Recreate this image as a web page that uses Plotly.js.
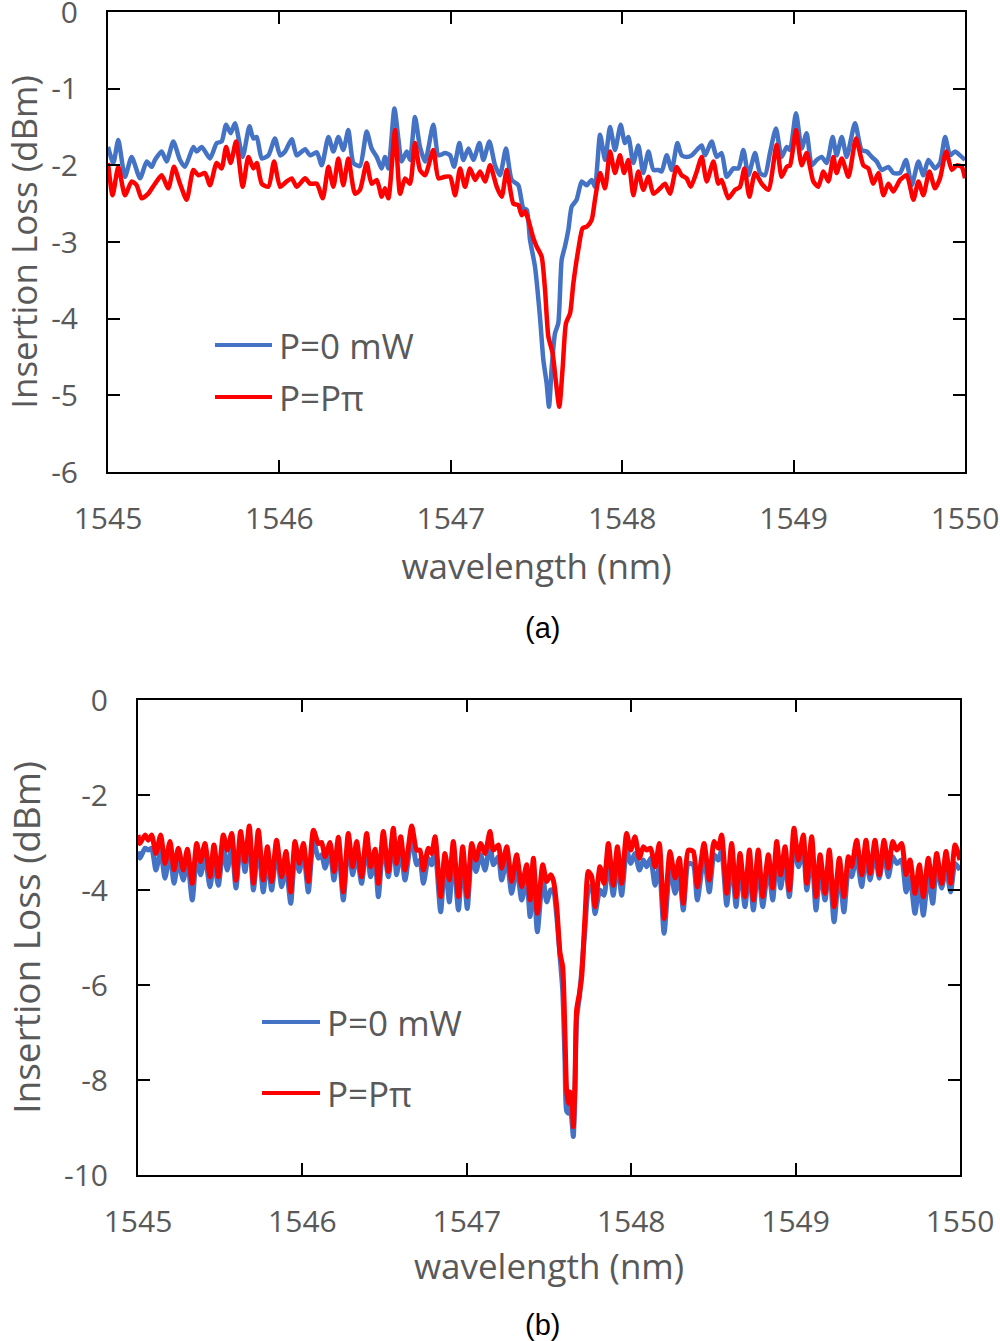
<!DOCTYPE html>
<html>
<head>
<meta charset="utf-8">
<script src="https://cdn.plot.ly/plotly-3.0.1.min.js"></script>
<style>html,body{margin:0;padding:0;background:#fff;}#chart{width:1000px;height:1341px;}</style>
</head>
<body>
<div id="chart"></div>
<script>
// ---------- Panel (a) ----------
const wlA_p0 = [1545.000,1545.031,1545.060,1545.099,1545.138,1545.187,1545.226,1545.255,1545.274,1545.313,1545.342,1545.381,1545.420,1545.449,1545.498,1545.517,1545.547,1545.595,1545.634,1545.663,1545.689,1545.716,1545.741,1545.786,1545.825,1545.848,1545.868,1545.897,1545.936,1545.974,1546.004,1546.033,1546.072,1546.101,1546.150,1546.179,1546.218,1546.247,1546.286,1546.315,1546.344,1546.373,1546.402,1546.432,1546.470,1546.509,1546.538,1546.568,1546.597,1546.616,1546.636,1546.671,1546.694,1546.713,1546.743,1546.762,1546.791,1546.820,1546.850,1546.898,1546.928,1546.966,1546.996,1547.019,1547.050,1547.073,1547.103,1547.132,1547.167,1547.190,1547.225,1547.258,1547.287,1547.322,1547.355,1547.394,1547.423,1547.443,1547.462,1547.491,1547.520,1547.540,1547.559,1547.573,1547.589,1547.608,1547.627,1547.647,1547.666,1547.686,1547.705,1547.734,1547.764,1547.793,1547.822,1547.841,1547.871,1547.900,1547.929,1547.958,1547.991,1548.016,1548.036,1548.065,1548.094,1548.123,1548.153,1548.182,1548.211,1548.230,1548.260,1548.289,1548.322,1548.347,1548.376,1548.405,1548.435,1548.464,1548.483,1548.522,1548.551,1548.580,1548.610,1548.649,1548.678,1548.707,1548.736,1548.775,1548.804,1548.833,1548.862,1548.897,1548.930,1548.960,1548.979,1549.014,1549.047,1549.076,1549.106,1549.135,1549.164,1549.193,1549.228,1549.251,1549.281,1549.310,1549.358,1549.397,1549.427,1549.456,1549.485,1549.514,1549.553,1549.582,1549.621,1549.656,1549.689,1549.728,1549.757,1549.786,1549.825,1549.854,1549.884,1549.913,1549.942,1549.971,1550.000];
const ilA_p0 = [-1.76,-1.97,-1.67,-2.15,-1.89,-2.17,-1.95,-2.02,-1.93,-1.82,-1.95,-1.69,-1.93,-2.02,-1.76,-1.82,-1.76,-1.91,-1.71,-1.69,-1.47,-1.58,-1.45,-1.89,-1.49,-1.65,-1.63,-1.91,-1.87,-1.65,-1.87,-1.82,-1.66,-1.87,-1.79,-1.87,-1.83,-2.00,-1.63,-1.82,-1.63,-1.80,-1.54,-1.97,-2.01,-1.56,-1.78,-1.89,-2.04,-1.89,-2.04,-1.26,-1.65,-1.95,-1.82,-1.93,-1.37,-1.76,-1.95,-1.47,-1.87,-1.84,-1.87,-2.02,-1.71,-1.93,-1.78,-1.93,-1.71,-1.93,-1.69,-2.00,-2.13,-1.78,-2.19,-2.26,-2.56,-2.58,-2.97,-3.32,-3.97,-4.54,-4.84,-5.15,-4.63,-4.19,-4.06,-3.23,-3.06,-2.84,-2.54,-2.45,-2.21,-2.26,-2.19,-2.28,-1.60,-1.93,-1.50,-1.80,-1.47,-1.71,-1.63,-1.97,-1.74,-2.10,-1.82,-2.06,-2.06,-2.08,-1.87,-2.06,-1.71,-1.87,-1.89,-1.87,-1.80,-1.74,-1.87,-1.69,-1.89,-1.84,-2.15,-2.04,-2.04,-1.80,-2.13,-1.84,-2.10,-2.13,-1.84,-1.52,-1.89,-1.76,-1.80,-1.32,-1.78,-1.58,-2.00,-1.93,-1.89,-1.97,-1.63,-1.87,-1.63,-1.89,-1.45,-1.80,-1.82,-1.89,-1.95,-2.06,-2.02,-2.10,-2.10,-1.93,-2.26,-1.95,-2.13,-1.93,-2.04,-1.97,-1.63,-1.87,-1.82,-1.87,-1.93];

const wlA_ppi = [1545.000,1545.027,1545.060,1545.099,1545.138,1545.167,1545.196,1545.235,1545.274,1545.313,1545.352,1545.385,1545.420,1545.459,1545.498,1545.527,1545.566,1545.595,1545.634,1545.663,1545.689,1545.716,1545.747,1545.786,1545.819,1545.848,1545.868,1545.897,1545.936,1545.969,1546.004,1546.043,1546.072,1546.101,1546.150,1546.179,1546.218,1546.253,1546.286,1546.315,1546.344,1546.373,1546.402,1546.441,1546.470,1546.509,1546.538,1546.568,1546.597,1546.616,1546.636,1546.675,1546.704,1546.733,1546.762,1546.791,1546.820,1546.850,1546.898,1546.928,1546.966,1546.996,1547.025,1547.054,1547.083,1547.112,1547.142,1547.171,1547.200,1547.229,1547.268,1547.297,1547.326,1547.365,1547.394,1547.414,1547.433,1547.452,1547.482,1547.501,1547.530,1547.550,1547.569,1547.594,1547.614,1547.633,1547.653,1547.672,1547.696,1547.715,1547.744,1547.769,1547.793,1547.822,1547.841,1547.871,1547.900,1547.929,1547.958,1547.987,1548.011,1548.036,1548.065,1548.094,1548.123,1548.153,1548.182,1548.221,1548.250,1548.279,1548.318,1548.347,1548.376,1548.400,1548.435,1548.464,1548.493,1548.532,1548.561,1548.580,1548.619,1548.658,1548.687,1548.713,1548.742,1548.775,1548.814,1548.853,1548.901,1548.930,1548.960,1548.979,1549.014,1549.047,1549.076,1549.115,1549.144,1549.174,1549.203,1549.232,1549.251,1549.281,1549.320,1549.364,1549.407,1549.436,1549.465,1549.495,1549.524,1549.553,1549.582,1549.621,1549.660,1549.699,1549.728,1549.757,1549.792,1549.825,1549.854,1549.890,1549.923,1549.952,1549.981,1550.000];
const ilA_ppi = [-1.97,-2.39,-2.02,-2.39,-2.21,-2.26,-2.43,-2.37,-2.24,-2.13,-2.30,-2.02,-2.24,-2.45,-2.06,-2.13,-2.10,-2.26,-1.97,-2.04,-1.76,-1.97,-1.69,-2.28,-1.89,-2.04,-1.97,-2.24,-2.28,-1.95,-2.28,-2.21,-2.17,-2.28,-2.17,-2.24,-2.24,-2.43,-2.02,-2.28,-1.91,-2.26,-1.91,-2.37,-2.32,-1.97,-2.24,-2.19,-2.41,-2.30,-2.43,-1.54,-2.37,-2.17,-2.24,-1.71,-2.06,-2.13,-1.80,-2.17,-2.15,-2.15,-2.39,-2.04,-2.28,-2.04,-2.19,-2.08,-2.21,-2.00,-2.28,-2.41,-2.06,-2.50,-2.52,-2.65,-2.60,-2.71,-2.95,-3.06,-3.19,-3.63,-4.23,-4.45,-4.84,-5.15,-4.63,-4.06,-3.93,-3.54,-3.10,-2.82,-2.80,-2.71,-2.45,-2.10,-2.30,-1.82,-2.10,-1.87,-2.10,-1.93,-2.39,-2.08,-2.32,-2.15,-2.37,-2.30,-2.24,-2.37,-2.02,-2.13,-2.17,-2.28,-2.08,-1.89,-2.21,-1.95,-2.24,-2.19,-2.43,-2.32,-2.28,-2.04,-2.41,-2.10,-2.24,-2.32,-1.73,-2.15,-2.02,-2.00,-1.54,-2.00,-1.84,-2.21,-2.28,-2.08,-2.21,-1.89,-2.10,-1.91,-2.15,-1.65,-2.00,-2.04,-2.24,-2.10,-2.39,-2.24,-2.34,-2.19,-2.13,-2.45,-2.21,-2.39,-2.08,-2.30,-2.17,-1.82,-2.06,-2.00,-2.02,-2.17];

// ---------- Panel (b) ----------
const wlB = [1545.000,1545.012,1545.043,1545.063,1545.083,1545.109,1545.138,1545.164,1545.195,1545.219,1545.245,1545.276,1545.300,1545.330,1545.357,1545.381,1545.407,1545.438,1545.462,1545.489,1545.519,1545.543,1545.570,1545.596,1545.624,1545.651,1545.677,1545.702,1545.732,1545.762,1545.787,1545.813,1545.843,1545.874,1545.900,1545.929,1545.955,1545.981,1546.006,1546.036,1546.067,1546.097,1546.117,1546.138,1546.168,1546.192,1546.219,1546.249,1546.279,1546.306,1546.330,1546.360,1546.391,1546.415,1546.442,1546.462,1546.492,1546.523,1546.553,1546.573,1546.598,1546.624,1546.665,1546.695,1546.715,1546.736,1546.766,1546.786,1546.807,1546.841,1546.867,1546.894,1546.918,1546.949,1546.975,1547.003,1547.030,1547.056,1547.084,1547.111,1547.141,1547.162,1547.192,1547.212,1547.243,1547.273,1547.303,1547.334,1547.364,1547.385,1547.405,1547.429,1547.462,1547.486,1547.510,1547.526,1547.547,1547.567,1547.583,1547.597,1547.607,1547.618,1547.628,1547.638,1547.648,1547.658,1547.668,1547.685,1547.699,1547.719,1547.739,1547.760,1547.780,1547.810,1547.835,1547.861,1547.891,1547.916,1547.942,1547.972,1547.997,1548.023,1548.050,1548.074,1548.094,1548.118,1548.145,1548.171,1548.200,1548.236,1548.267,1548.293,1548.317,1548.348,1548.378,1548.402,1548.443,1548.475,1548.504,1548.530,1548.550,1548.581,1548.611,1548.638,1548.662,1548.692,1548.719,1548.743,1548.773,1548.800,1548.834,1548.861,1548.885,1548.909,1548.936,1548.962,1548.990,1549.017,1549.047,1549.068,1549.098,1549.124,1549.149,1549.179,1549.205,1549.234,1549.266,1549.294,1549.321,1549.341,1549.371,1549.402,1549.428,1549.453,1549.483,1549.509,1549.538,1549.564,1549.591,1549.615,1549.645,1549.672,1549.696,1549.726,1549.753,1549.777,1549.807,1549.834,1549.858,1549.889,1549.915,1549.943,1549.970,1550.000];
const ilB_ppi = [-2.84,-3.02,-2.84,-2.95,-2.84,-3.23,-2.84,-3.44,-2.98,-3.58,-3.12,-3.58,-3.14,-3.86,-3.02,-3.40,-3.02,-3.72,-3.05,-3.72,-2.84,-3.16,-2.81,-3.79,-2.77,-3.40,-2.65,-3.86,-2.74,-3.79,-3.09,-3.82,-2.95,-3.72,-3.19,-4.04,-2.98,-3.44,-3.02,-3.82,-2.74,-3.02,-3.00,-3.30,-3.00,-3.61,-2.89,-4.04,-2.81,-3.51,-2.98,-3.72,-2.81,-3.51,-3.14,-3.86,-2.77,-3.61,-2.70,-3.44,-2.88,-3.58,-2.65,-3.16,-3.16,-3.58,-3.12,-3.23,-2.88,-4.14,-3.23,-3.79,-2.98,-4.14,-3.09,-4.14,-3.02,-3.37,-3.02,-3.23,-2.77,-3.16,-3.05,-3.54,-3.09,-3.82,-3.26,-3.93,-3.47,-4.21,-3.33,-4.49,-3.47,-3.82,-3.68,-3.79,-4.35,-5.33,-5.61,-7.02,-8.21,-8.49,-8.25,-8.35,-8.98,-8.07,-6.53,-6.18,-5.82,-4.56,-3.61,-3.72,-4.35,-3.51,-3.86,-3.02,-3.90,-3.09,-3.86,-2.81,-3.16,-2.88,-3.33,-3.09,-3.16,-3.12,-3.51,-3.02,-4.60,-3.19,-3.75,-3.33,-4.28,-3.16,-3.19,-3.93,-3.02,-3.79,-2.98,-3.12,-2.84,-4.07,-3.02,-4.14,-3.23,-4.14,-3.16,-4.21,-3.16,-4.14,-3.26,-3.96,-2.98,-3.68,-3.09,-4.00,-2.70,-3.37,-2.84,-3.86,-2.88,-4.14,-3.26,-4.07,-3.16,-4.35,-3.33,-4.14,-3.30,-3.51,-2.95,-3.68,-2.95,-3.65,-2.95,-3.68,-2.95,-3.54,-2.98,-3.16,-3.02,-3.68,-3.37,-4.07,-3.47,-4.14,-3.33,-3.93,-3.23,-3.86,-3.19,-3.86,-3.05,-3.37];
const ilB_p0 = [-3.19,-3.33,-3.12,-3.16,-3.12,-3.58,-3.16,-3.75,-3.23,-3.86,-3.40,-3.79,-3.33,-4.21,-3.26,-3.68,-3.30,-3.93,-3.40,-3.90,-3.09,-3.58,-3.09,-3.96,-2.98,-3.61,-2.84,-4.00,-3.02,-4.04,-3.33,-4.00,-3.16,-3.93,-3.51,-4.28,-3.23,-3.61,-3.19,-4.04,-2.95,-3.33,-3.26,-3.54,-3.16,-3.79,-3.12,-4.21,-3.02,-3.68,-3.23,-3.86,-3.02,-3.72,-3.40,-4.14,-3.02,-3.72,-2.88,-3.68,-3.12,-3.79,-2.88,-3.47,-3.37,-3.86,-3.33,-3.47,-3.16,-4.46,-3.37,-4.25,-3.23,-4.42,-3.33,-4.39,-3.23,-3.61,-3.26,-3.58,-3.02,-3.47,-3.30,-3.79,-3.37,-4.07,-3.51,-4.21,-3.79,-4.56,-3.58,-4.88,-3.72,-4.25,-4.00,-4.00,-4.56,-5.40,-6.10,-7.60,-8.65,-8.70,-8.49,-8.80,-9.19,-8.21,-6.70,-6.25,-5.70,-4.80,-4.00,-3.90,-4.50,-4.00,-4.11,-3.37,-4.11,-3.37,-4.11,-3.16,-3.44,-3.23,-3.58,-3.37,-3.51,-3.33,-3.90,-3.51,-4.91,-3.51,-4.07,-3.68,-4.42,-3.44,-3.47,-4.21,-3.30,-4.04,-3.26,-3.37,-3.16,-4.32,-3.37,-4.35,-3.51,-4.35,-3.51,-4.42,-3.47,-4.35,-3.51,-4.21,-3.23,-3.96,-3.40,-4.14,-3.02,-3.51,-3.16,-4.00,-3.23,-4.42,-3.58,-4.21,-3.44,-4.67,-3.58,-4.46,-3.58,-3.72,-3.30,-3.93,-3.23,-3.79,-3.23,-3.75,-3.23,-3.72,-3.30,-3.44,-3.37,-4.04,-3.72,-4.49,-3.86,-4.53,-3.65,-4.28,-3.51,-3.96,-3.51,-4.04,-3.44,-3.58];

// tick labels
const xTickVals = [1545,1546,1547,1548,1549,1550];
const xTickText = ['1545','1546','1547','1548','1549','1550'];
const yTickValsA = [0,-1,-2,-3,-4,-5,-6];
const yTickTextA = ['0','-1','-2','-3','-4','-5','-6'];
const yTickValsB = [0,-2,-4,-6,-8,-10];
const yTickTextB = ['0','-2','-4','-6','-8','-10'];
const seriesNames = ['P=0 mW','P=P\u03c0'];

const BLUE = '#4472C4', RED = '#FF0000', GREY = '#595959';
const FONT = 'Open Sans, Noto Sans, sans-serif';

const traces = [
  {x: wlA_p0, y: ilA_p0, xaxis:'x', yaxis:'y', type:'scatter', mode:'lines', name: seriesNames[0], line:{color:BLUE, width:4.5, shape:'spline', smoothing:0.6}, showlegend:false},
  {x: wlA_ppi, y: ilA_ppi, xaxis:'x', yaxis:'y', type:'scatter', mode:'lines', name: seriesNames[1], line:{color:RED, width:4.5, shape:'spline', smoothing:0.6}, showlegend:false},
  {x: wlB, y: ilB_p0, xaxis:'x2', yaxis:'y2', type:'scatter', mode:'lines', name: seriesNames[0], line:{color:BLUE, width:5, shape:'spline', smoothing:0.6}, showlegend:false},
  {x: wlB, y: ilB_ppi, xaxis:'x2', yaxis:'y2', type:'scatter', mode:'lines', name: seriesNames[1], line:{color:RED, width:5, shape:'spline', smoothing:0.6}, showlegend:false}
];

function xax(domain, anchor, standoff){
  return {domain: domain, anchor: anchor, range:[1545,1550], tickmode:'array', tickvals:xTickVals, ticktext:xTickText,
    ticks:'inside', ticklen:12, tickwidth:2, tickcolor:'#000', showline:true, linecolor:'#000', linewidth:2, mirror:'ticks',
    showgrid:false, zeroline:false, automargin:false, ticklabelstandoff: 19, ticklabeloverflow:'allow',
    tickfont:{family:FONT, size:30, color:GREY},
    title:{text:'wavelength (nm)', font:{family:FONT, size:35, color:GREY}, standoff: standoff}};
}
function yax(domain, anchor, range, vals, txt, tsize, standoff){
  return {domain: domain, anchor: anchor, range: range, tickmode:'array', tickvals: vals, ticktext: txt,
    ticks:'inside', ticklen:12, tickwidth:2, tickcolor:'#000', showline:true, linecolor:'#000', linewidth:2, mirror:'ticks',
    showgrid:false, zeroline:false, automargin:false, ticklabelstandoff: 22, ticklabeloverflow:'allow',
    tickfont:{family:FONT, size:30, color:GREY},
    title:{text:'Insertion Loss (dBm)', font:{family:FONT, size:tsize, color:GREY}, standoff: standoff}};
}

const H = 1341, W = 1000;
function px(x){return x/W;}
function py(y){return 1 - y/H;}

const layout = {
  width: W, height: H, margin:{l:0,r:0,t:0,b:0}, paper_bgcolor:'#fff', plot_bgcolor:'#fff', showlegend:false,
  xaxis: xax([px(108), px(965)], 'y', 17),
  yaxis: yax([py(472), py(12)], 'x', [-6,0], yTickValsA, yTickTextA, 35, 10),
  xaxis2: xax([px(138), px(960)], 'y2', 14),
  yaxis2: yax([py(1175), py(700)], 'x2', [-10,0], yTickValsB, yTickTextB, 37, 12),
  shapes: [
    {type:'line', xref:'paper', yref:'paper', x0:px(215), x1:px(272), y0:py(345), y1:py(345), line:{color:BLUE, width:4}},
    {type:'line', xref:'paper', yref:'paper', x0:px(215), x1:px(272), y0:py(397), y1:py(397), line:{color:RED, width:4}},
    {type:'line', xref:'paper', yref:'paper', x0:px(262), x1:px(320), y0:py(1022), y1:py(1022), line:{color:BLUE, width:4}},
    {type:'line', xref:'paper', yref:'paper', x0:px(262), x1:px(320), y0:py(1093), y1:py(1093), line:{color:RED, width:4}}
  ],
  annotations: [
    {text: seriesNames[0], xref:'paper', yref:'paper', x:px(277), y:py(345), xanchor:'left', yanchor:'middle', showarrow:false, font:{family:FONT, size:35, color:GREY}},
    {text: seriesNames[1], xref:'paper', yref:'paper', x:px(277), y:py(397), xanchor:'left', yanchor:'middle', showarrow:false, font:{family:FONT, size:35, color:GREY}},
    {text: seriesNames[0], xref:'paper', yref:'paper', x:px(325), y:py(1022), xanchor:'left', yanchor:'middle', showarrow:false, font:{family:FONT, size:35, color:GREY}},
    {text: seriesNames[1], xref:'paper', yref:'paper', x:px(325), y:py(1093), xanchor:'left', yanchor:'middle', showarrow:false, font:{family:FONT, size:35, color:GREY}},
    {text:'(a)', xref:'paper', yref:'paper', x:px(542), y:py(628), xanchor:'center', yanchor:'middle', showarrow:false, font:{family:'Liberation Sans, Arial, sans-serif', size:29, color:'#000'}},
    {text:'(b)', xref:'paper', yref:'paper', x:px(542), y:py(1325), xanchor:'center', yanchor:'middle', showarrow:false, font:{family:'Liberation Sans, Arial, sans-serif', size:29, color:'#000'}}
  ]
};

Plotly.newPlot('chart', traces, layout, {staticPlot:true, displayModeBar:false});
</script>
</body>
</html>
